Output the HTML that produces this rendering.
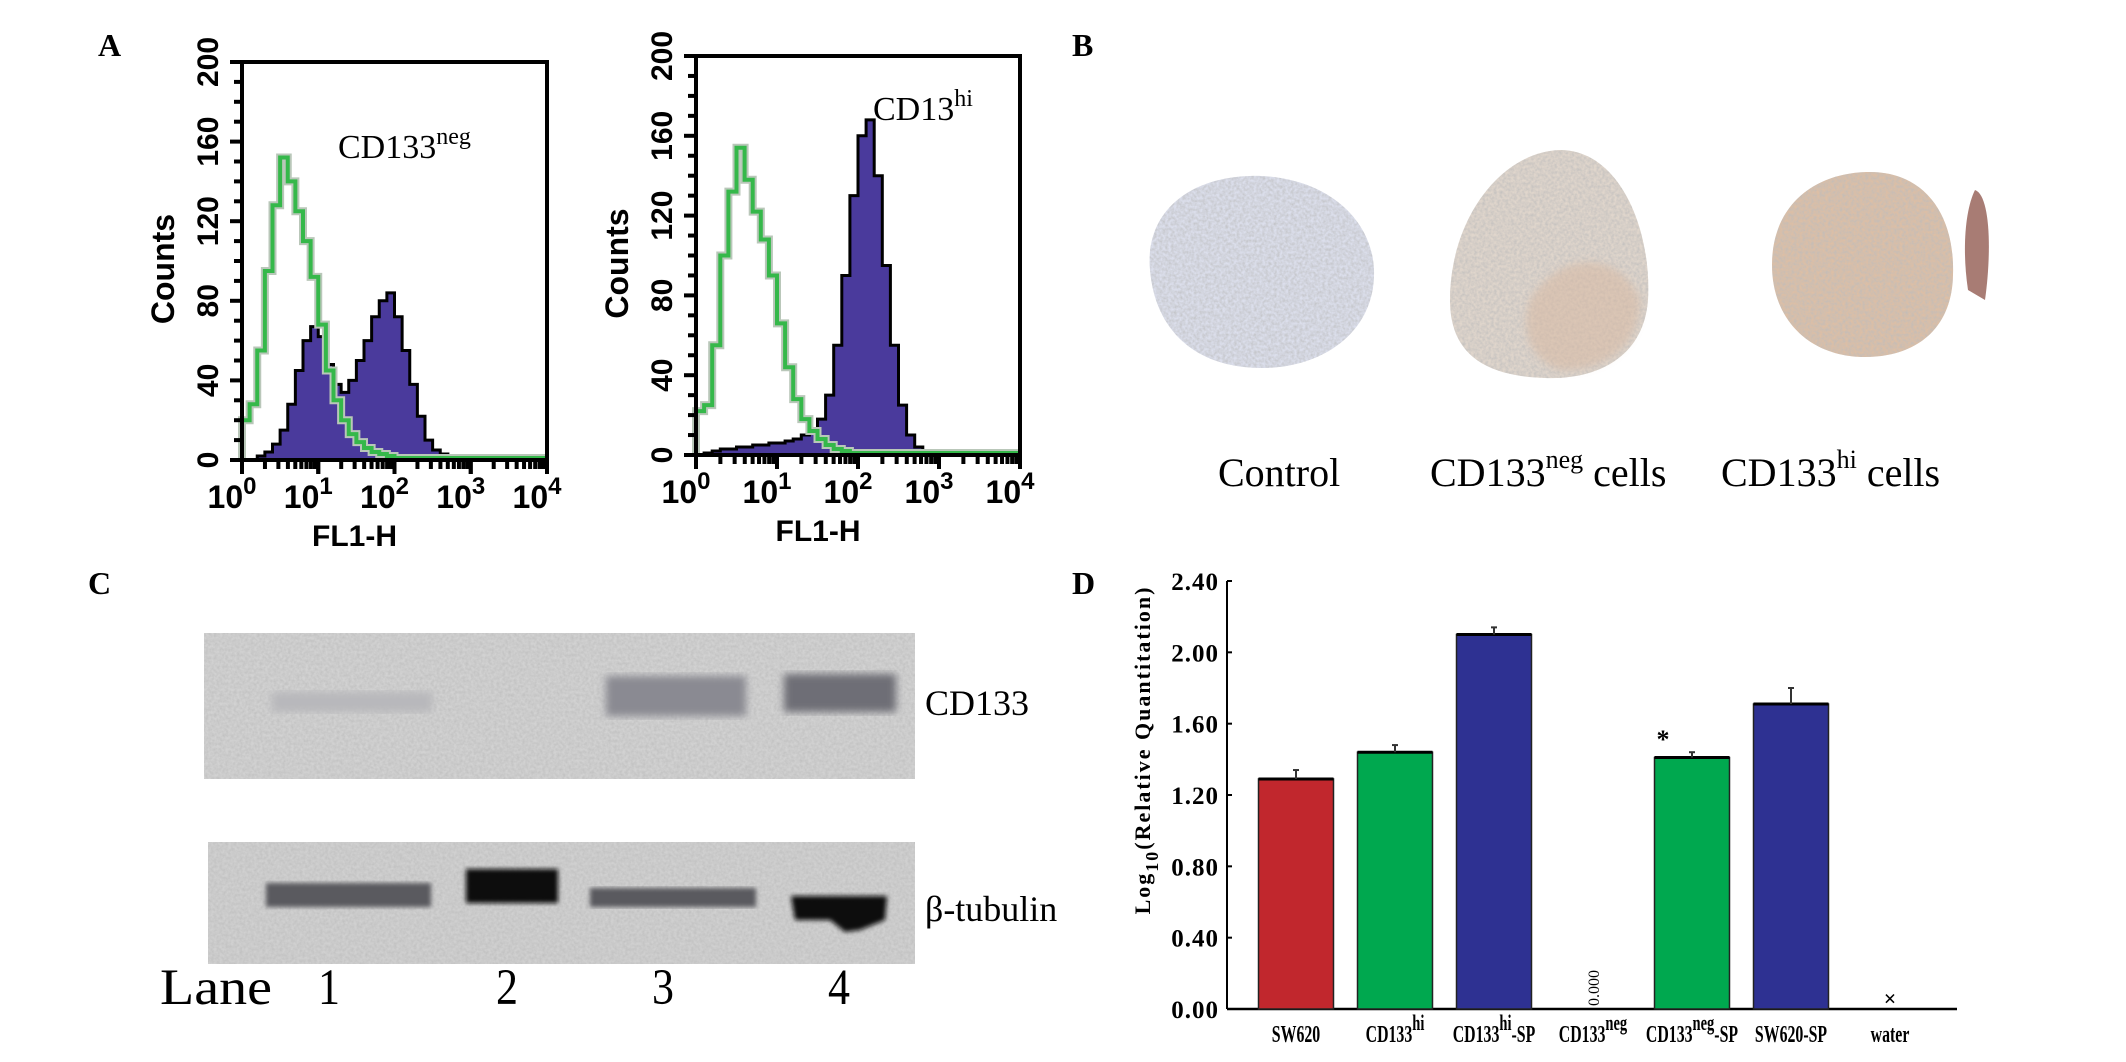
<!DOCTYPE html>
<html><head><meta charset="utf-8"><style>
html,body{margin:0;padding:0;background:#fff;}
svg{display:block;}
.lab{font-family:"Liberation Serif",serif;font-weight:bold;}
.ax{font-family:"Liberation Sans",sans-serif;font-weight:bold;}
.ser{font-family:"Liberation Serif",serif;}
</style></head><body>
<svg id="fig" width="2126" height="1062" viewBox="0 0 2126 1062" xmlns="http://www.w3.org/2000/svg">
<defs>
<filter id="noise" x="0" y="0" width="100%" height="100%">
<feTurbulence type="fractalNoise" baseFrequency="0.35" numOctaves="2" seed="3" result="t"/>
<feColorMatrix type="matrix" values="0 0 0 0 0.5  0 0 0 0 0.5  0 0 0 0 0.5  0 0 0 -1.2 0.9" in="t" result="n"/>
<feComposite in="n" in2="SourceGraphic" operator="in" result="m"/>
<feMerge><feMergeNode in="SourceGraphic"/><feMergeNode in="m"/></feMerge>
</filter>
<filter id="blur3"><feGaussianBlur stdDeviation="4"/></filter>
<filter id="blur2"><feGaussianBlur stdDeviation="2.5"/></filter>
</defs>

<text class="lab" x="98" y="56" font-size="32">A</text>
<text class="lab" x="1072" y="56" font-size="32">B</text>
<text class="lab" x="88" y="594" font-size="32">C</text>
<text class="lab" x="1072" y="594" font-size="32">D</text>

<g id="histA"></g>

<g>
<path d="M1150,270 C1145,215 1185,178 1250,176 C1320,174 1372,215 1374,270 C1376,330 1325,368 1262,368 C1195,368 1155,330 1150,270 Z" fill="#dcdfec" filter="url(#noise)"/>
<path d="M1450,300 C1450,220 1500,152 1560,150 C1620,150 1652,230 1648,300 C1644,355 1600,380 1545,378 C1480,376 1450,350 1450,300 Z" fill="#e0d6cc" filter="url(#noise)"/>
<path d="M1530,300 C1560,250 1620,250 1640,300 C1640,350 1600,372 1560,370 C1530,360 1520,330 1530,300 Z" fill="#d8b8a0" opacity="0.5" filter="url(#blur3)"/>
<path d="M1772,265 C1772,205 1815,172 1870,172 C1925,172 1955,215 1953,275 C1952,330 1915,357 1865,357 C1810,357 1772,320 1772,265 Z" fill="#dcbfa6" filter="url(#noise)"/>
<path d="M1975,190 C1990,195 1992,250 1985,300 L1968,290 C1962,250 1965,210 1975,190 Z" fill="#a87c74"/>
<text class="ser" x="1218" y="486" font-size="40">Control</text>
<text class="ser" x="1430" y="486" font-size="40">CD133<tspan font-size="26" dy="-18">neg</tspan><tspan dy="18"> cells</tspan></text>
<text class="ser" x="1721" y="486" font-size="40">CD133<tspan font-size="26" dy="-18">hi</tspan><tspan dy="18"> cells</tspan></text>
</g>

<g>
<rect x="204" y="633" width="711" height="146" fill="#d2d2d2" filter="url(#noise)"/>
<rect x="272" y="692" width="160" height="20" fill="#b8b8bb" filter="url(#blur3)"/>
<rect x="606" y="676" width="140" height="40" fill="#8a8a92" filter="url(#blur3)"/>
<rect x="784" y="674" width="112" height="38" fill="#6e6e76" filter="url(#blur3)"/>
<rect x="208" y="842" width="707" height="122" fill="#d0d0d0" filter="url(#noise)"/>
<rect x="266" y="883" width="165" height="24" fill="#5a5a5e" filter="url(#blur2)"/>
<rect x="466" y="869" width="92" height="34" fill="#0a0a0a" filter="url(#blur2)"/>
<rect x="590" y="888" width="166" height="19" fill="#5a5a5e" filter="url(#blur2)"/>
<path d="M791,896 L887,896 L885,920 L860,930 L845,932 L830,920 L795,920 Z" fill="#0a0a0a" filter="url(#blur2)"/>
<text class="ser" x="925" y="715" font-size="36">CD133</text>
<text class="ser" x="925" y="921" font-size="36">β-tubulin</text>
<g class="ser" font-size="44" transform="translate(0,1004) scale(1,1.15)">
<text x="160" y="0" textLength="112" lengthAdjust="spacingAndGlyphs">Lane</text>
<text x="318" y="0">1</text>
<text x="496" y="0">2</text>
<text x="652" y="0">3</text>
<text x="828" y="0">4</text>
</g>
</g>

<g id="barD"></g>

<script>
const histBins = [0,0.1,0.2,0.3,0.4,0.5,0.6,0.7,0.8,0.9,1.0,1.1,1.2,1.3,1.4,1.5,1.6,1.7,1.8,1.9,2.0,2.1,2.2,2.3,2.4,2.5,2.6,2.7,2.8,2.9,3.0,3.1,3.2,3.3,3.4,3.5,3.6,3.7,3.8,3.9];
const controlLeft = [20,28,55,95,128,152,140,125,110,92,68,45,30,20,13,9,6,4,3,2,1,1,1,1,1,1,1,1,1,1,1,1,1,1,1,1,1,1,1,1];
const cd133negFill = [0,0,2,4,8,15,28,45,60,67,62,48,38,34,40,50,60,72,80,84,72,55,38,22,10,5,3,1,0,0,0,0,0,0,0,0,0,0,0,0];
const controlRight = [22,25,55,100,132,154,138,122,108,90,66,44,28,18,12,8,5,3,2,1,1,1,1,1,1,1,1,1,1,1,1,1,1,1,1,1,1,1,1,1];
const cd133hiFill = [0,1,2,3,3,4,4,5,5,6,6,7,8,10,12,18,30,55,90,130,160,168,140,95,55,25,10,4,2,0,0,0,0,0,0,0,0,0,0,0];
const countTicks = [0,40,80,120,160,200];
const decadeTicks = [0,1,2,3,4];

const NS = "http://www.w3.org/2000/svg";
function mk(tag, attrs, parent){ const e=document.createElementNS(NS,tag); for(const k in attrs) e.setAttribute(k,attrs[k]); parent.appendChild(e); return e; }
function rich(t, parts){ parts.forEach(p=>{ const s=document.createElementNS(NS,"tspan"); if(p[1]) s.setAttribute("font-size",p[1]); if(p[2]) s.setAttribute("dy",p[2]); s.textContent=p[0]; t.appendChild(s); }); }

function drawHist(g, box, ctrl, fill, titleBase, titleSup, tx, ty, key){
  const xs = v => box.x0 + (v/4)*(box.x1-box.x0);
  const ys = c => box.yb - (c/200)*(box.yb-box.yt);
  let d = "M"+xs(0)+","+ys(0);
  histBins.forEach((b,i)=>{ d += " L"+xs(b)+","+ys(fill[i])+" L"+xs(b+0.1)+","+ys(fill[i]); });
  d += " L"+xs(4)+","+ys(0)+" Z";
  const pf = mk("path",{d:d,fill:"#4a3a9c",stroke:"#000","stroke-width":3},g);
  
  
  let d2 = "M"+xs(0)+","+ys(0);
  histBins.forEach((b,i)=>{ d2 += " L"+xs(b)+","+ys(ctrl[i])+" L"+xs(b+0.1)+","+ys(ctrl[i]); });
  mk("path",{d:d2,fill:"none",stroke:"#b9c7b9","stroke-width":8},g);
  const pl = mk("path",{d:d2,fill:"none",stroke:"#35b84a","stroke-width":4},g);
  
  
  const r = mk("rect",{x:box.x0,y:box.yt,width:box.x1-box.x0,height:box.yb-box.yt,fill:"none",stroke:"#000","stroke-width":4},g);
  
  
  for(let c=0;c<=200;c+=10){ mk("line",{x1:box.x0-(c%40===0?12:8),x2:box.x0,y1:ys(c),y2:ys(c),stroke:"#000","stroke-width":4},g); }
  countTicks.forEach(c=>{
    const t = mk("text",{x:0,y:0,class:"ax","font-size":30,"text-anchor":"middle",transform:"translate("+(box.x0-24)+","+ys(c)+") rotate(-90)"},g);
    t.textContent = c;
    
    
  });
  const yl = mk("text",{x:0,y:0,class:"ax","font-size":32,"text-anchor":"middle",transform:"translate("+(box.x0-68)+","+(ys(100)+8)+") rotate(-90)"},g);
  yl.textContent = "Counts";
  
  
  for(let dec=0;dec<4;dec++){ for(let m=1;m<=10;m++){ const v=dec+Math.log10(m); mk("line",{x1:xs(v),x2:xs(v),y1:box.yb,y2:box.yb+(m===1||m===10?14:9),stroke:"#000","stroke-width":4},g);} }
  decadeTicks.forEach(v=>{
    const t = mk("text",{x:xs(v)-10,y:box.yb+48,class:"ax","font-size":32,"font-weight":"normal","text-anchor":"middle"},g);
    rich(t, [["10",null,0],[String(v),24,-14]]);
    
    
  });
  const xl = mk("text",{x:(box.x0+box.x1)/2-40,y:box.yb+86,class:"ax","font-size":30,"text-anchor":"middle"},g);
  xl.textContent = "FL1-H";
  
  
  const tt = mk("text",{x:tx,y:ty,class:"ser","font-size":34},g);
  rich(tt, [[titleBase,null,0],[titleSup,24,-14]]);
  
  
}
const gA = document.getElementById("histA");
drawHist(gA,{x0:242,x1:547,yt:62,yb:460},controlLeft,cd133negFill,"CD133","neg",338,158,"cd133neg");
drawHist(gA,{x0:696,x1:1020,yt:56,yb:455},controlRight,cd133hiFill,"CD13","hi",873,120,"cd133hi");

const categories = ["SW620","CD133hi","CD133hi-SP","CD133neg","CD133neg-SP","SW620-SP","water"];
const catBase = ["SW620","CD133","CD133","CD133","CD133","SW620-SP","water"];
const catSup = ["","hi","hi","neg","neg","",""];
const catSuffix = ["","","-SP","","-SP","",""];
const values = [1.29,1.44,2.10,0,1.41,1.71,0];
const errors = [0.05,0.04,0.04,0,0.03,0.09,0];
const barColors = ["#c1272d","#00a84f","#2e3192","#00a84f","#00a84f","#2e3192","#2e3192"];
const yTicks = [0,0.4,0.8,1.2,1.6,2.0,2.4];
const yTickLabels = ["0.00","0.40","0.80","1.20","1.60","2.00","2.40"];

const gD = document.getElementById("barD");
const X0=1227, YB=1009, YT=581, STEP=99, BW=75, FIRST=69;
const yD = v => YB - (v/2.4)*(YB-YT);
const xD = i => X0 + FIRST + i*STEP;
mk("line",{x1:X0,x2:X0,y1:YB,y2:YT,stroke:"#000","stroke-width":2},gD);
const xa = mk("line",{x1:X0,x2:1957,y1:YB,y2:YB,stroke:"#000","stroke-width":2.5},gD);


yTicks.forEach((v,i)=>{
  mk("line",{x1:X0,x2:X0+5,y1:yD(v),y2:yD(v),stroke:"#000","stroke-width":2},gD);
  const t = mk("text",{x:X0-8,y:yD(v)+9,class:"lab","font-size":25,"text-anchor":"end","letter-spacing":"1"},gD);
  t.textContent = yTickLabels[i];
  
  
});
const yt = mk("text",{x:0,y:0,class:"lab","font-size":22,"text-anchor":"middle","letter-spacing":"2",transform:"translate(1150,750) rotate(-90)"},gD);
rich(yt, [["Log",null,0],["10",18,8],["(Relative Quantitation)",null,-8]]);


categories.forEach((c,i)=>{
  const cx = xD(i);
  if(values[i]>0){
    const r = mk("rect",{x:cx-BW/2,y:yD(values[i]),width:BW,height:YB-yD(values[i]),fill:barColors[i],stroke:"#222","stroke-width":1.5},gD);
    
    
    mk("line",{x1:cx-BW/2,x2:cx+BW/2,y1:yD(values[i]),y2:yD(values[i]),stroke:"#000","stroke-width":3},gD);
    const e = mk("line",{x1:cx,x2:cx,y1:yD(values[i]),y2:yD(values[i]+errors[i]),stroke:"#333","stroke-width":2},gD);
    
    
    mk("line",{x1:cx-3,x2:cx+3,y1:yD(values[i]+errors[i]),y2:yD(values[i]+errors[i]),stroke:"#333","stroke-width":2},gD);
  }
  const t = mk("text",{x:0,y:0,class:"lab","font-size":24,"text-anchor":"middle",transform:"translate("+cx+",1042) scale(0.66,1)"},gD);
  if(catSup[i]) rich(t, [[catBase[i],null,0],[catSup[i],22,-12],[catSuffix[i]||"",null,12]]);
  else t.textContent = catBase[i];
  
  
});
const z = mk("text",{x:0,y:0,class:"ser","font-size":16,"text-anchor":"start",transform:"translate("+(xD(3)+6)+",1006) rotate(-90)"},gD);
z.textContent = "0.000";


const w = mk("text",{x:xD(6),y:1006,class:"lab","font-size":22,"text-anchor":"middle"},gD);
w.textContent = "×";


const ast = mk("text",{x:xD(4)-29,y:748,class:"lab","font-size":26,"text-anchor":"middle"},gD);
ast.textContent = "*";


</script>
</svg>
</body></html>
